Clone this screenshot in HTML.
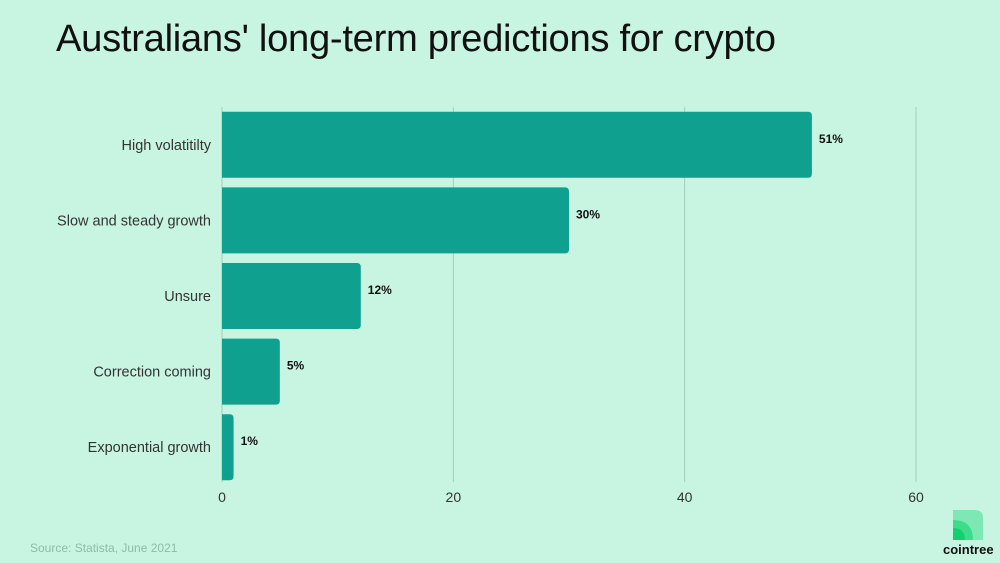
<!DOCTYPE html>
<html><head><meta charset="utf-8"><style>
body{margin:0;width:1000px;height:563px;background:#c8f5e1;font-family:"Liberation Sans",sans-serif;overflow:hidden;position:relative}
#title{position:absolute;left:56px;top:17px;font-size:38.2px;color:#111;letter-spacing:-0.3px}
#src{position:absolute;left:30px;top:541px;font-size:12px;color:#8fb9a8}
#brand{position:absolute;left:943px;top:542px;font-size:13px;font-weight:bold;color:#111}
</style></head><body>
<div id="title">Australians' long-term predictions for crypto</div>
<svg id="chart" width="1000" height="563" style="position:absolute;left:0;top:0"></svg>
<div id="src">Source: Statista, June 2021</div>
<svg width="40" height="36" style="position:absolute;left:950px;top:507px">
<path d="M3 3 H25 Q33 3 33 11 V33 H3 Z" fill="#7ee8b4"/>
<path d="M3 13 Q23 13 23 33 H3 Z" fill="#3ddc8a"/>
<path d="M3 21 Q15 21 15 33 H3 Z" fill="#12cf70"/>
</svg>
<div id="brand">cointree</div>
<script>
const categories=["High volatitilty","Slow and steady growth","Unsure","Correction coming","Exponential growth"];
const values=[51,30,12,5,1];
const ticks=[0,20,40,60];
const svg=document.getElementById('chart');
const NS='http://www.w3.org/2000/svg';
const x0=222,x1=916,xmax=60,top0=107,band=75.6,bh=66;
const xs=v=>x0+(x1-x0)*v/xmax;
function el(t,a){const e=document.createElementNS(NS,t);for(const k in a)e.setAttribute(k,a[k]);svg.appendChild(e);return e;}
ticks.forEach(t=>{
 const g=el('line',{x1:xs(t),x2:xs(t),y1:107,y2:482,stroke:'#9fcfbd','stroke-width':1});
 
 
 const l=el('text',{x:xs(t),y:502,'text-anchor':'middle','font-size':14,fill:'#333'});l.textContent=t;
 
 
});
categories.forEach((c,i)=>{
 const y=top0+i*band+(band-bh)/2;
 const w=xs(values[i])-x0,r=Math.min(4,w/2);
 const b=el('path',{d:`M${x0} ${y} H${x0+w-r} Q${x0+w} ${y} ${x0+w} ${y+r} V${y+bh-r} Q${x0+w} ${y+bh} ${x0+w-r} ${y+bh} H${x0} Z`,fill:'#0fa08f'});
 
 
 const l=el('text',{x:211,y:y+bh/2+5,'text-anchor':'end','font-size':14.5,fill:'#333'});l.textContent=c;
 
 
 const v=el('text',{x:x0+w+7,y:y+bh/2-2,'font-size':12,'font-weight':'bold',fill:'#111'});v.textContent=values[i]+'%';
 
 
});
</script>
</body></html>
